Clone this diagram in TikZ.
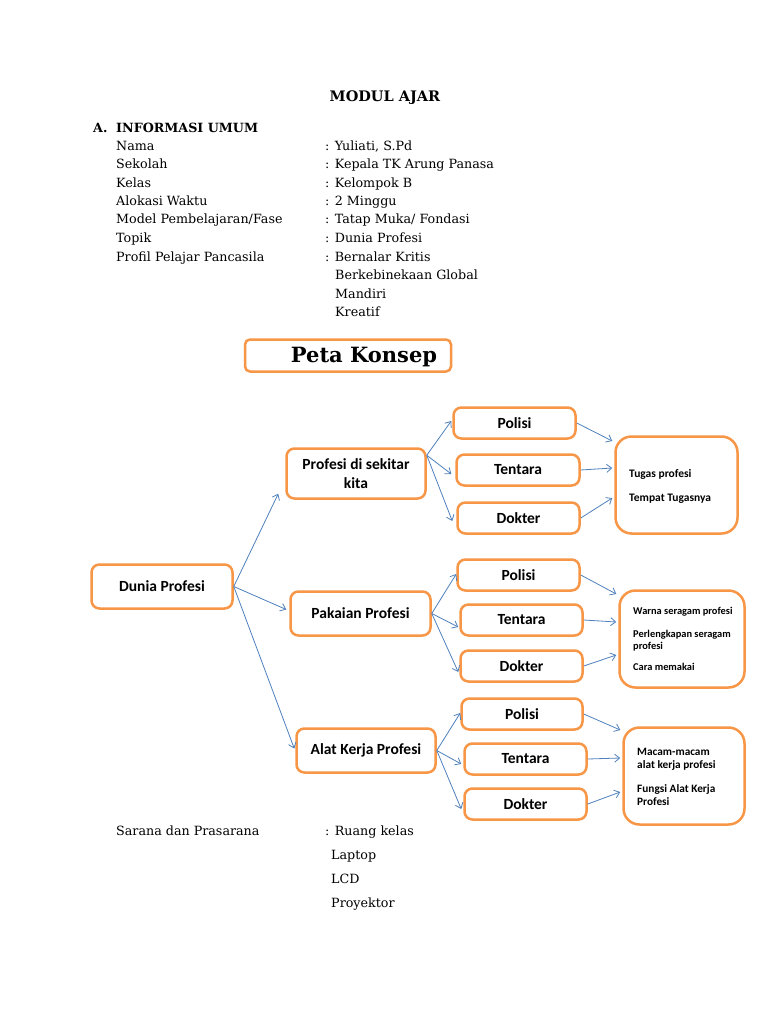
\documentclass[tikz,border=0pt]{standalone}
\usepackage{fontspec}
\setmainfont{DejaVu Serif}
\newfontfamily\boxfont{Carlito}
\usetikzlibrary{arrows.meta,calc}
\definecolor{orng}{HTML}{F79646}
\definecolor{arblue}{HTML}{4F81BD}
\begin{document}
\begin{tikzpicture}[x=1pt,y=-1pt,
 txt/.style={anchor=base west,inner sep=0,font=\fontsize{12.7}{15}\selectfont},
 cbox/.style={draw=orng,line width=2.5pt,rounded corners=8pt,fill=white,font=\boxfont\bfseries\fontsize{15.5}{19}\selectfont,align=center,inner sep=0},
 bigbox/.style={draw=orng,line width=2.5pt,rounded corners=16pt,inner sep=0},
 small/.style={anchor=base west,inner sep=0,align=left,font=\boxfont\bfseries\fontsize{11.5}{13}\selectfont},
 arr/.style={draw=arblue,line width=0.8pt,-{Straight Barb[length=5pt,width=8pt]}}]
\useasboundingbox[fill=white] (0,0) rectangle (768,1024);
% header
\node[anchor=base,inner sep=0,font=\bfseries\fontsize{14.5}{16}\selectfont] (title) at (385,102) {MODUL AJAR};
\node[txt,font=\bfseries\fontsize{12.7}{15}\selectfont] (secA) at (93,133) {A.};
\node[txt,font=\bfseries\fontsize{12.7}{15}\selectfont] (secAt) at (116,133) {INFORMASI UMUM};
\node[txt] (l1) at (116,151) {Nama};
\node[txt] (l2) at (116,169) {Sekolah};
\node[txt] (l3) at (116,188) {Kelas};
\node[txt] (l4) at (116,206) {Alokasi Waktu};
\node[txt] (l5) at (116,224) {Model Pembelajaran/Fase};
\node[txt] (l6) at (116,243) {Topik};
\node[txt] (l7) at (116,261) {Profil Pelajar Pancasila};
\node[txt] (v1) at (325,151) {: Yuliati, S.Pd};
\node[txt] (v2) at (325,169) {: Kepala TK Arung Panasa};
\node[txt] (v3) at (325,188) {: Kelompok B};
\node[txt] (v4) at (325,206) {: 2 Minggu};
\node[txt] (v5) at (325,224) {: Tatap Muka/ Fondasi};
\node[txt] (v6) at (325,243) {: Dunia Profesi};
\node[txt] (v7) at (325,261) {: Bernalar Kritis};
\node[txt] (v8) at (335,279) {Berkebinekaan Global};
\node[txt] (v9) at (335,298) {Mandiri};
\node[txt] (v10) at (335,316) {Kreatif};
% peta konsep
\node[draw=orng,line width=2.5pt,rounded corners=5pt,minimum width=206pt,minimum height=32pt,inner sep=0] (peta) at (348,355.5) {};
\node[anchor=base,inner sep=0,font=\bfseries\fontsize{21}{22}\selectfont] (petat) at (364,362.5) {Peta Konsep};
% main boxes
\node[cbox,minimum width=141pt,minimum height=44pt] (dunia) at (162,586.5) {Dunia Profesi};
\node[cbox,minimum width=139pt,minimum height=50pt] (profesi) at (356,473.5) {Profesi di sekitar\\kita};
\node[cbox,minimum width=140pt,minimum height=44pt] (pakaian) at (360.5,613.5) {Pakaian Profesi};
\node[cbox,minimum width=139pt,minimum height=44pt] (alat) at (366,750.5) {Alat Kerja Profesi};
% level 2
\node[cbox,minimum width=122pt,minimum height=31pt] (pol1) at (514.5,423) {Polisi};
\node[cbox,minimum width=123pt,minimum height=31pt] (ten1) at (518,470) {Tentara};
\node[cbox,minimum width=122pt,minimum height=31pt] (dok1) at (518.5,518) {Dokter};
\node[cbox,minimum width=122pt,minimum height=31pt] (pol2) at (518.5,575) {Polisi};
\node[cbox,minimum width=122pt,minimum height=31pt] (ten2) at (521.5,620) {Tentara};
\node[cbox,minimum width=122pt,minimum height=31pt] (dok2) at (521.5,666) {Dokter};
\node[cbox,minimum width=121pt,minimum height=31pt] (pol3) at (522,714) {Polisi};
\node[cbox,minimum width=122pt,minimum height=31pt] (ten3) at (525.5,759) {Tentara};
\node[cbox,minimum width=122pt,minimum height=31pt] (dok3) at (525.5,804) {Dokter};
% big boxes
\node[bigbox,minimum width=122pt,minimum height=97pt] (big1) at (676.5,485) {};
\node[bigbox,minimum width=125pt,minimum height=97pt] (big2) at (682,639) {};
\node[bigbox,minimum width=121pt,minimum height=97pt] (big3) at (684,776) {};
\node[small] (t11) at (629,477) {Tugas profesi};
\node[small] (t12) at (629,501) {Tempat Tugasnya};
\node[small,font=\boxfont\bfseries\fontsize{10.4}{12}\selectfont] (t21) at (633,614.5) {Warna seragam profesi};
\node[small,font=\boxfont\bfseries\fontsize{10.4}{12}\selectfont] (t22) at (633,649) {Perlengkapan seragam\\profesi};
\node[small,font=\boxfont\bfseries\fontsize{10.4}{12}\selectfont] (t23) at (633,670.5) {Cara memakai};
\node[small,font=\boxfont\bfseries\fontsize{11.3}{13}\selectfont] (t31) at (637,768) {Macam-macam\\alat kerja profesi};
\node[small,font=\boxfont\bfseries\fontsize{11.3}{13}\selectfont] (t32) at (637,805) {Fungsi Alat Kerja\\Profesi};
% arrows level 1
\draw[arr] (dunia.east) -- ($(profesi.south west)+(-7,-6)$);
\draw[arr] (dunia.east) -- ($(pakaian.west)+(-3,-4)$);
\draw[arr] (dunia.east) -- ($(alat.west)+(-1,-2)$);
% arrows level 2
\draw[arr] ($(profesi.north east)+(0,8)$) -- ($(pol1.west)+(-1,-2)$);
\draw[arr] ($(profesi.north east)+(0,8)$) -- ($(ten1.west)+(-4,4)$);
\draw[arr] ($(profesi.north east)+(0,8)$) -- ($(dok1.west)+(-4,3)$);
\draw[arr] (pakaian.east) -- ($(pol2.west)+(0,-1)$);
\draw[arr] (pakaian.east) -- ($(ten2.west)+(-1,7)$);
\draw[arr] (pakaian.east) -- ($(dok2.west)+(-1,6)$);
\draw[arr] (alat.east) -- ($(pol3.west)+(0,-1)$);
\draw[arr] (alat.east) -- ($(ten3.west)+(-2,5)$);
\draw[arr] (alat.east) -- ($(dok3.west)+(-2,5)$);
% arrows to big boxes
\draw[arr] (pol1.east) -- ($(big1.west)+(-2,-44)$);
\draw[arr] (ten1.east) -- ($(big1.west)+(-2,-17)$);
\draw[arr] (dok1.east) -- ($(big1.west)+(-2,13)$);
\draw[arr] (pol2.east) -- ($(big2.west)+(-2,-45)$);
\draw[arr] (ten2.east) -- ($(big2.west)+(-2,-17)$);
\draw[arr] (dok2.east) -- ($(big2.west)+(-2,16)$);
\draw[arr] (pol3.east) -- ($(big3.west)+(-2,-46)$);
\draw[arr] (ten3.east) -- ($(big3.west)+(-2,-18)$);
\draw[arr] (dok3.east) -- ($(big3.west)+(-2,16)$);
% bottom
\node[txt] (s1) at (116,835) {Sarana dan Prasarana};
\node[txt] (s2) at (325,835) {: Ruang kelas};
\node[txt] (s3) at (331,859) {Laptop};
\node[txt] (s4) at (331,883) {LCD};
\node[txt] (s5) at (331,907) {Proyektor};
\end{tikzpicture}
\end{document}
